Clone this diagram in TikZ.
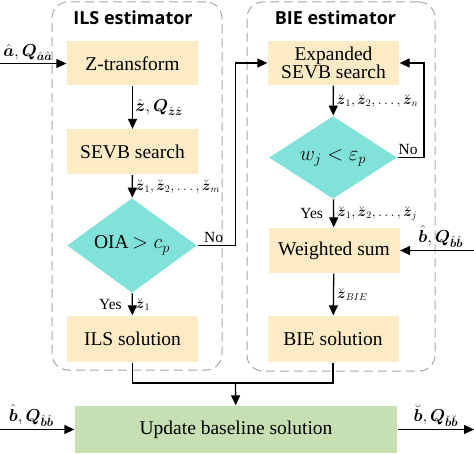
\documentclass[tikz,border=0pt]{standalone}
\usepackage{amsmath}
\usepackage{amssymb}
\usepackage{fontspec}
\setmainfont{Liberation Serif}
\newfontfamily\titlefont{Open Sans}
\newfontfamily\boxfont{Liberation Serif}
\usepackage{tikz}
\usetikzlibrary{arrows.meta, shapes.geometric}

\definecolor{boxfill}{HTML}{FDEBC6}
\definecolor{decfill}{HTML}{80E2D8}
\definecolor{updfill}{HTML}{C6E0B4}
\definecolor{grpline}{HTML}{A8A8A8}

\newcommand{\bz}{\breve{\boldsymbol{z}}}
\newcommand{\boxtext}{\boxfont\fontsize{19.5}{20}\selectfont}

\begin{document}
\begin{tikzpicture}[x=1pt, y=1pt, line width=1.3pt, >={Triangle[length=10pt,width=9pt]},
  group/.style={draw=grpline, line width=1pt, dash pattern=on 9pt off 5pt, rounded corners=16pt, inner sep=0pt},
  grptitle/.style={font=\titlefont\bfseries\fontsize{18}{20}\selectfont},
  stepbox/.style={rectangle, fill=boxfill, minimum width=131pt, inner sep=0pt, align=center, font=\boxtext},
  testbox/.style={diamond, fill=decfill, minimum width=130pt, minimum height=55pt, inner sep=0pt, font=\boxtext},
  lbl/.style={font=\fontsize{18}{19}\selectfont, inner sep=2pt},
  zlbl/.style={font=\fontsize{14}{15}\selectfont, inner sep=3pt},
  yn/.style={font=\boxfont\fontsize{15.5}{16}\selectfont, inner sep=2pt}]

\useasboundingbox (0,0) rectangle (474,453);

% dashed estimator groups
\node[group, minimum width=170pt, minimum height=368pt] (ilsgrp) at (137,267) {};
\node[group, minimum width=188pt, minimum height=369pt] (biegrp) at (341,266.5) {};
\node[grptitle] (ilstitle) at (133,435) {ILS estimator};
\node[grptitle] (bietitle) at (335.5,435) {BIE estimator};

% ILS side
\node[stepbox, minimum height=44pt] (zt) at (132.5,389.5) {Z-transform};
\node[stepbox, minimum height=45pt] (sevb) at (132.5,301) {SEVB search};
\node[testbox] (oia) at (132,207.5) {OIA$\,>c_p$};
\node[stepbox, minimum height=46pt] (ils) at (132.5,114) {ILS solution};

% BIE side
\node[stepbox, minimum height=44pt] (exp) at (333.5,390) {Expanded\\[-2pt]SEVB search};
\node[testbox, minimum width=128pt] (wj) at (333,295.5) {$w_j<\varepsilon_p$};
\node[stepbox, minimum height=45pt] (ws) at (334,202.5) {Weighted sum};
\node[stepbox, minimum height=46pt] (bie) at (333,114) {BIE solution};

\node[rectangle, fill=updfill, minimum width=322pt, minimum height=47pt, font=\boxtext] (upd) at (236,23.5) {Update baseline solution};

% free ends and bends
\coordinate (ain) at (0,389.5);
\coordinate (bin) at (474,202.5);
\coordinate (bin2) at (0,23.5);
\coordinate (bout) at (474,23.5);
\coordinate (noL) at (235.5,207.5);
\coordinate (noR) at (424,295.5);
\coordinate (mrg) at (235.5,70);

\draw[->] (ain) -- node[lbl, above, pos=0.42] {$\hat{\boldsymbol{a}},\boldsymbol{Q}_{\hat{\boldsymbol{a}}\hat{\boldsymbol{a}}}$} (zt);
\draw[->] (zt) -- node[lbl, right] {$\hat{\boldsymbol{z}},\boldsymbol{Q}_{\hat{\boldsymbol{z}}\hat{\boldsymbol{z}}}$} (sevb);
\draw[->] (sevb) -- node[zlbl, right] {$\bz_1,\bz_2,\ldots,\bz_m$} (oia);
\draw[->] (oia) -- node[yn, left, xshift=-8pt] {Yes} node[zlbl, right] {$\bz_1$} (ils);
\draw[->] (oia.east) -- node[yn, above, pos=0.42] {No} (noL) |- (exp.west);

\draw[->] (exp) -- node[zlbl, right] {$\bz_1,\bz_2,\ldots,\bz_n$} (wj);
\draw[->] (wj.east) -- node[yn, above, pos=0.4] {No} (noR) |- (exp.east);
\draw[->] (wj) -- node[yn, left, xshift=-8pt] {Yes} node[zlbl, right] {$\bz_1,\bz_2,\ldots,\bz_j$} (ws);
\draw[->] (bin) -- node[lbl, above, pos=0.45] {$\hat{\boldsymbol{b}},\boldsymbol{Q}_{\hat{\boldsymbol{b}}\hat{\boldsymbol{b}}}$} (ws);
\draw[->] (ws) -- node[zlbl, right] {$\bz_{BIE}$} (bie);

\draw (ils) |- (mrg);
\draw (bie) |- (mrg);
\draw[->] (mrg) -- (upd);
\draw[->] (bin2) -- node[lbl, above, pos=0.42] {$\hat{\boldsymbol{b}},\boldsymbol{Q}_{\hat{\boldsymbol{b}}\hat{\boldsymbol{b}}}$} (upd);
\draw[->] (upd) -- node[lbl, above, pos=0.5] {$\breve{\boldsymbol{b}},\boldsymbol{Q}_{\breve{\boldsymbol{b}}\breve{\boldsymbol{b}}}$} (bout);
\end{tikzpicture}
\end{document}
